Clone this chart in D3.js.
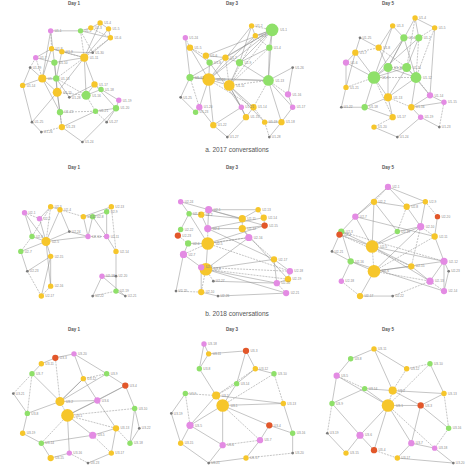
<!DOCTYPE html>
<html lang="en">
<head>
<meta charset="UTF-8">
<title>Conversation networks</title>
<script src="https://cdnjs.cloudflare.com/ajax/libs/d3/7.8.5/d3.min.js"></script>
<style>
    body { margin: 0; background: #fff; font-family: "Liberation Sans", Arial, sans-serif; }
    svg { display: block; }
    .link { stroke: #8a8a8a; stroke-width: 0.5px; }
    .lbl { font-size: 3.2px; fill: #888; }
    .title { font-size: 4.5px; font-weight: bold; fill: #555; text-anchor: middle; }
    .caption { font-size: 6.5px; fill: #555; text-anchor: middle; }
</style>
</head>
<body>
<svg width="474" height="474"></svg>
<script>
    const dayTitles = ["Day 1", "Day 3", "Day 5"];
    const captions = ["a. 2017 conversations", "b. 2018 conversations"];
    const colors = { y: "#f6c62b", g: "#8fe06a", m: "#e38be3", r: "#e2572a", k: "#7a7a7a" };

    // each node: [x, y, type, size] in panel units
    const nodesA1 = [[50,23,"m",3],[82,23,"g",3],[93,20,"y",3],[103,15,"y",3],[112,21,"y",3],[114,30,"y",3],[34,50,"m",3],[51,41,"y",3],[62,44,"y",3],[54,55,"g",3.5],[86,50,"y",4.5],[41,71,"y",4.5],[56,71,"g",3.5],[20,78,"y",3],[57,85,"y",5],[88,88,"g",5],[97,77,"y",3.5],[104,82,"g",3],[123,93,"m",3],[120,101,"g",3.5],[98,104,"g",3],[60,105,"g",3.5],[62,120,"y",3.5],[84,135,"k",1.5],[30,115,"k",1.5],[40,125,"k",1.5],[110,115,"k",1.5],[70,90,"k",1.5],[28,60,"k",1.5],[95,45,"k",1.5]];
    const edgesA1 = "0-7 0-9 0-1 1-2 1-10 2-3 3-4 4-5 2-5 1-5 7-8 7-10 8-10 9-12 7-11 6-7 6-11 11-12 11-13 12-14 14-15 10-15 10-14 14-21 21-22 22-23 23-19 15-16 16-17 17-18 18-19 19-20 15-20 15-17 13-24 24-25 25-22 11-14 9-10 10-16 5-10 12-27 27-16 28-11 28-6 29-5 29-8 14-24 21-20 8-12 3-10 26-19 26-20 0-11 6-9 13-28 1-29 4-10 16-19 11-21 12-15 14-22 20-22 9-14 10-12";

    const nodesA2 = [[118,22,"g",7],[96,18,"y",3],[100,28,"y",3],[115,40,"g",3.5],[30,40,"y",3.5],[47,48,"y",3.5],[68,50,"y",3.5],[51,55,"g",3.5],[83,55,"g",4],[50,72,"y",7],[72,78,"y",6],[30,70,"g",4],[114,73,"g",6],[98,100,"y",3.5],[90,110,"y",3.5],[135,87,"m",3.5],[140,100,"m",3],[128,115,"y",3.5],[110,115,"y",3],[40,100,"m",3.5],[85,100,"m",3],[55,118,"y",3.5],[36,105,"g",3],[25,30,"m",3],[20,90,"k",1.5],[140,60,"k",1.5],[70,130,"k",1.5],[115,130,"k",1.5]];
    const edgesA2 = "0-1 0-2 0-3 1-2 2-3 3-8 0-8 0-12 4-5 5-6 6-8 4-7 5-7 7-9 9-10 9-11 10-12 8-12 10-13 13-14 12-15 15-16 16-17 17-18 13-18 14-20 10-20 9-19 19-22 19-21 21-26 26-14 18-27 27-17 11-24 24-22 23-4 23-11 12-25 25-15 6-10 8-10 9-12 3-12 2-10 1-9 0-9 11-12 9-13 10-18 7-20 20-21 0-10 1-8 0-6 0-5 12-13 12-17 9-21 4-9 11-19 10-14 12-16 0-11 3-10 2-9";

    const nodesA3 = [[92,30,"g",4],[108,30,"g",4],[80,18,"y",3],[104,10,"y",3],[125,20,"y",3],[30,55,"m",3.5],[40,45,"y",3.5],[65,40,"y",3.5],[60,70,"g",7],[75,60,"g",5],[95,60,"g",5],[105,70,"g",6],[75,90,"y",4.5],[120,88,"m",3.5],[135,95,"m",3],[100,100,"y",3.5],[80,110,"y",3.5],[50,100,"g",3.5],[110,110,"m",3],[60,120,"y",3],[30,80,"y",3],[25,100,"k",1.5],[130,120,"k",1.5],[85,130,"k",1.5],[45,30,"k",1.5]];
    const edgesA3 = "0-1 0-2 1-3 3-4 1-4 0-9 1-10 5-6 6-7 7-9 6-8 8-9 9-10 10-11 8-12 11-12 11-13 13-14 14-15 15-18 12-15 12-16 16-17 17-8 16-19 19-23 23-18 18-22 22-14 17-21 21-20 20-5 20-8 24-6 24-7 2-7 8-11 9-11 8-10 0-11 7-10 12-17 13-15 10-12 4-11 5-8 0-8 3-9 1-11 2-8 4-13 11-15 8-16 9-12 6-20 10-13 3-10 1-8";

    const nodesB1 = [[22,41,"m",3],[38,47,"m",3],[50,35,"y",3],[60,38,"y",3],[45,70,"y",5],[30,65,"g",3],[18,80,"g",3],[95,45,"g",3],[110,40,"g",3],[90,65,"m",3],[110,65,"m",3],[85,45,"y",3],[115,35,"y",3],[120,80,"y",3],[50,85,"y",3],[50,115,"y",3],[40,125,"y",3],[105,105,"m",3],[120,120,"g",3],[120,105,"k",1.5],[130,125,"k",1.5],[95,125,"k",1.5],[25,100,"k",1.5],[70,60,"k",1.5]];
    const edgesB1 = "0-1 1-2 2-3 1-4 2-4 3-4 0-5 5-4 5-6 6-4 4-14 14-15 15-16 4-15 22-14 22-6 7-11 7-8 8-12 11-9 9-10 7-10 10-13 8-10 12-13 9-23 23-4 3-23 3-11 17-19 19-18 17-21 21-18 17-20 20-18 13-19 16-22 14-16 4-9 0-4 2-5 7-9 11-12";

    const nodesB2 = [[50,38,"m",4],[42,43,"y",3.5],[29,42,"g",3],[49,57,"m",4],[49,72,"y",7],[28,72,"g",3.5],[23,83,"m",4],[47,98,"y",7],[42,96,"m",3.5],[42,121,"y",3.5],[86,47,"y",4],[86,57,"y",4],[103,38,"y",3],[109,46,"y",3.5],[110,54,"r",3.5],[93,66,"m",4],[120,88,"y",3.5],[137,100,"m",3.5],[135,108,"y",3.5],[123,112,"m",3.5],[133,122,"m",3.5],[20,58,"g",3],[17,64,"r",3.5],[20,30,"m",3],[15,120,"k",1.5],[60,125,"k",1.5],[55,110,"k",1.5]];
    const edgesB2 = "0-1 1-2 0-3 1-3 3-4 2-4 4-5 5-6 4-6 4-7 7-8 8-9 7-9 6-8 10-11 10-12 12-13 13-14 11-14 11-15 15-4 0-10 3-11 4-15 15-16 16-17 17-18 18-19 19-20 16-19 7-16 7-19 4-17 3-13 0-12 21-22 22-5 21-2 23-0 23-2 9-24 24-6 9-25 25-20 26-7 26-19 11-18 1-10 7-18 4-14 7-20 3-16 8-17 0-14 7-15";

    const nodesB3 = [[75,15,"m",3.5],[60,30,"y",3.5],[25,60,"g",3.5],[23,63,"r",3.5],[58,75,"y",7],[60,100,"y",7],[40,45,"m",3.5],[95,35,"y",3.5],[115,30,"y",3],[110,55,"m",4],[125,65,"y",3.5],[135,90,"m",4],[120,110,"m",4],[135,120,"m",3.5],[100,95,"y",3.5],[35,90,"g",3.5],[45,125,"y",3.5],[25,110,"m",3],[85,60,"g",3],[128,45,"r",3],[15,80,"k",1.5],[80,125,"k",1.5],[140,100,"k",1.5]];
    const edgesB3 = "0-1 0-6 1-6 6-2 2-3 3-4 2-4 1-4 4-5 5-15 15-2 15-17 17-16 16-5 5-14 14-12 12-13 11-13 11-12 10-11 9-10 8-9 7-8 7-9 19-8 19-10 18-4 18-9 18-7 4-9 5-11 4-11 5-12 1-7 0-7 6-4 14-9 20-3 20-15 21-16 21-12 22-11 22-13 4-14 5-10 1-18 4-12 5-9 2-11 6-10 15-13 0-8 3-14";

    const nodesC1 = [[68,82,"y",7],[60,68,"y",5],[55,24,"r",3.5],[130,52,"r",3.5],[95,102,"m",4],[100,67,"m",3.5],[30,40,"g",3],[25,80,"g",3],[110,40,"g",3],[140,75,"g",3],[40,30,"y",3],[85,45,"y",3],[120,95,"y",3.5],[40,110,"g",3],[50,125,"y",3.5],[70,120,"m",3],[115,120,"y",3],[135,110,"g",3],[20,100,"y",3],[75,20,"m",3],[10,60,"k",1.5],[145,95,"k",1.5],[90,130,"k",1.5]];
    const edgesC1 = "0-1 0-4 0-5 1-5 1-2 2-10 10-6 6-1 6-7 7-1 7-18 18-13 13-0 13-14 14-15 15-0 15-22 22-16 16-12 12-4 12-17 17-9 9-3 3-8 8-11 11-1 11-5 5-3 4-16 2-19 19-11 19-8 20-6 20-7 21-9 21-17 0-12 1-11 0-3 4-13 0-9 1-8 5-12";

    const nodesC2 = [[65,72,"y",7],[58,62,"y",4.5],[90,17,"r",3.5],[115,92,"r",3.5],[30,92,"m",4],[65,112,"m",3.5],[105,107,"m",3.5],[40,35,"g",3],[25,60,"g",3],[120,40,"g",3],[50,20,"y",3],[100,35,"y",3],[130,70,"y",3],[80,50,"g",3],[20,110,"y",3],[140,100,"g",3],[90,125,"y",3],[45,10,"m",3],[10,80,"k",1.5],[140,120,"k",1.5],[50,130,"k",1.5]];
    const edgesC2 = "0-1 0-5 0-4 1-7 1-8 7-10 10-17 17-7 8-4 4-14 14-20 20-5 5-6 6-3 3-15 15-12 12-9 9-11 11-2 2-13 13-1 13-0 11-13 0-3 0-6 6-16 16-20 19-15 19-16 18-8 18-14 10-2 1-11 0-12 4-5 1-4 0-9 1-12";

    const nodesC3 = [[75,72,"y",7],[80,57,"y",4.5],[110,72,"r",3.5],[60,117,"r",3.5],[20,42,"m",3.5],[45,102,"m",4],[100,110,"m",3.5],[35,25,"g",3],[15,70,"g",3],[120,30,"g",3],[60,15,"y",3],[95,35,"y",3],[135,60,"y",3],[50,55,"g",3],[30,120,"y",3],[140,95,"g",3],[85,125,"y",3],[125,115,"m",3],[10,100,"k",1.5],[145,130,"k",1.5]];
    const edgesC3 = "0-1 0-2 0-5 1-13 13-4 4-7 7-10 10-11 11-9 9-12 12-2 2-15 15-17 17-6 6-0 6-16 16-3 3-5 5-14 14-18 18-8 8-4 8-13 13-0 1-11 1-10 0-3 2-6 12-15 17-19 19-16 5-8 0-9 1-2 0-4 1-12 0-17";

    const panels = [
        [nodesA1, edgesA1], [nodesA2, edgesA2], [nodesA3, edgesA3],
        [nodesB1, edgesB1], [nodesB2, edgesB2], [nodesB3, edgesB3],
        [nodesC1, edgesC1], [nodesC2, edgesC2], [nodesC3, edgesC3]
    ];

    const svg = d3.select("svg");
    const colX = [4, 162, 318];
    const rowY = [8, 172, 334];
    const pw = 140, ph = 134;

    panels.forEach(([nodes, edgeStr], i) => {
        const col = i % 3, row = Math.floor(i / 3);
        const x = d3.scaleLinear().domain([0, 150]).range([colX[col], colX[col] + pw]);
        const y = d3.scaleLinear().domain([0, 135]).range([rowY[row], rowY[row] + ph]);
        const edges = edgeStr.split(" ").map(s => s.split("-").map(Number));
        const g = svg.append("g");

        g.append("text").attr("class", "title")
            .attr("x", x(75)).attr("y", rowY[row] - 3)
            .text(dayTitles[col]);

        g.selectAll("line").data(edges).enter().append("line")
            .attr("class", "link")
            .attr("stroke-dasharray", (d, k) => k % 4 === 0 ? "2,1" : null)
            .attr("x1", d => x(nodes[d[0]][0])).attr("y1", d => y(nodes[d[0]][1]))
            .attr("x2", d => x(nodes[d[1]][0])).attr("y2", d => y(nodes[d[1]][1]));

        const node = g.selectAll("g.node").data(nodes).enter().append("g")
            .attr("class", "node")
            .attr("transform", d => `translate(${x(d[0])},${y(d[1])})`);
        node.append("circle")
            .attr("r", d => d[3] * 0.9)
            .attr("fill", d => colors[d[2]]);
        node.append("text").attr("class", "lbl")
            .attr("x", d => d[3] + 1).attr("y", 1.2)
            .text((d, k) => "U" + (row + 1) + "-" + (k + 1));
    });

    captions.forEach((c, r) => {
        svg.append("text").attr("class", "caption")
            .attr("x", 237).attr("y", rowY[r] + ph + 10)
            .text(c);
    });
</script>
</body>
</html>
